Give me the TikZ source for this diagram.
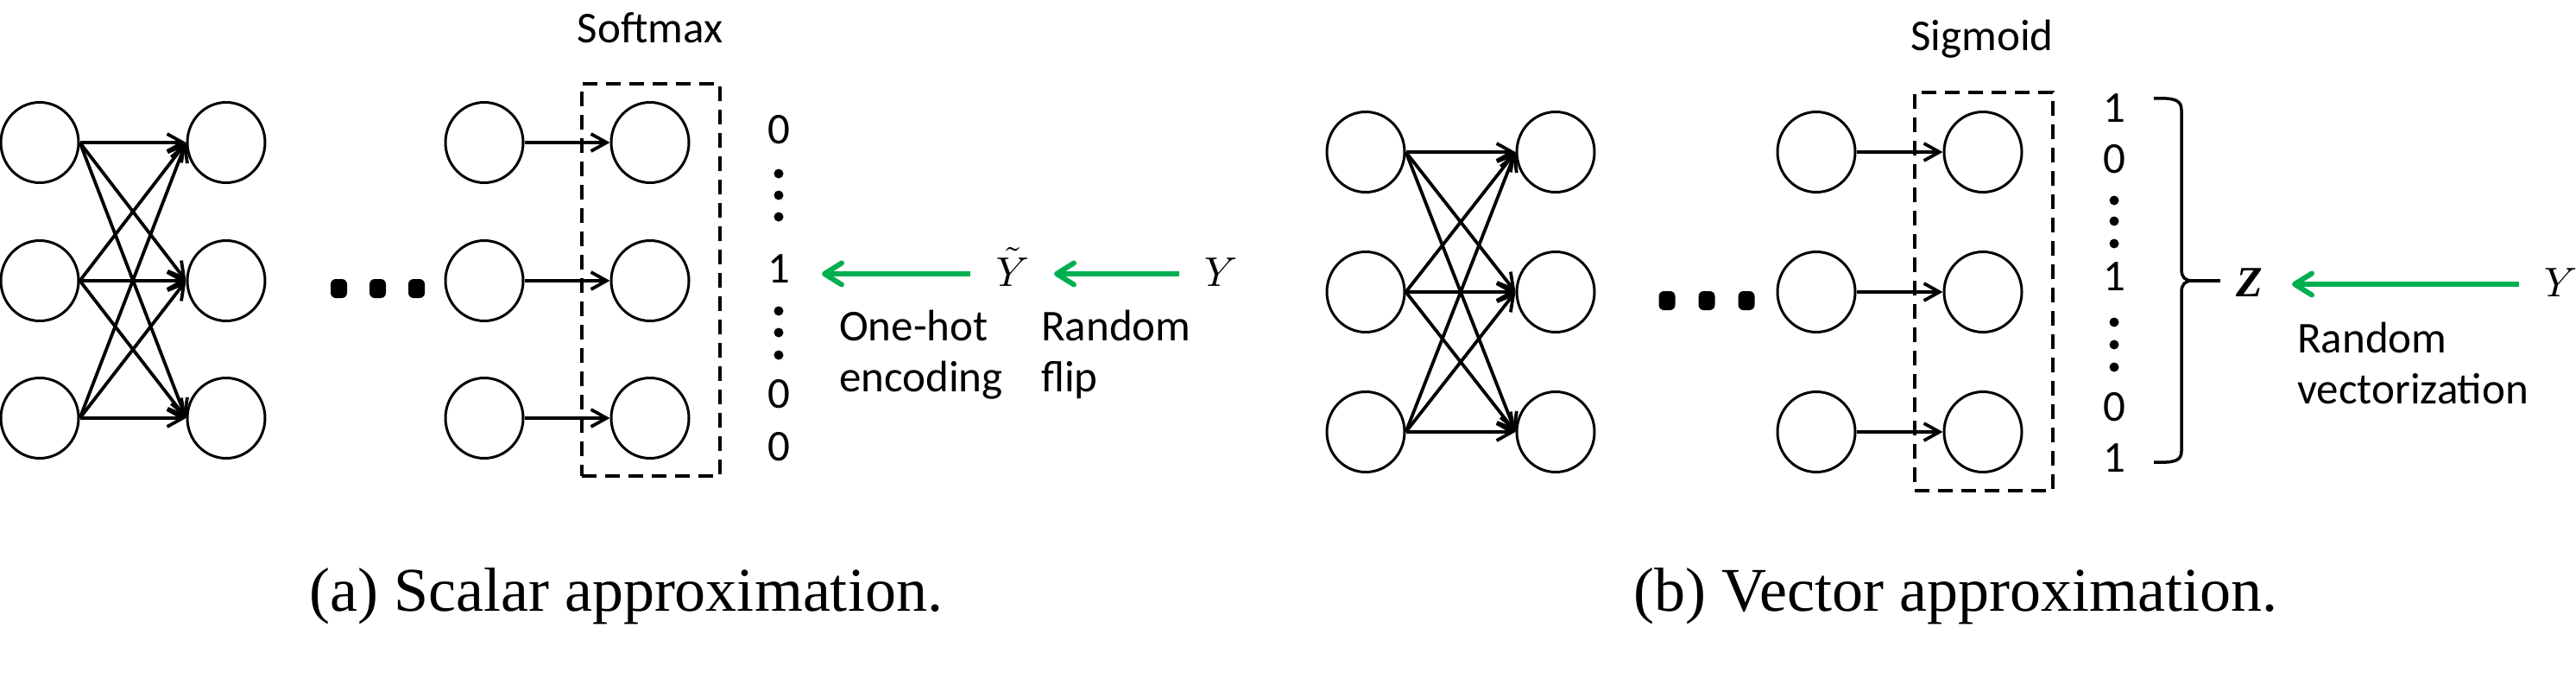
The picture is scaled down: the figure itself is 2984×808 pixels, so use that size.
\documentclass[tikz,border=0pt]{standalone}
\usepackage{amsmath}
\usepackage{graphicx}
\usepackage{fontspec}
\newfontfamily\lblfont{Carlito}
\newfontfamily\capfont{Liberation Serif}
\usetikzlibrary{arrows.meta,shapes.geometric}
\definecolor{arrowgreen}{RGB}{0,176,80}
\newcommand{\bigmath}[1]{\scalebox{4.8}{$#1$}}
\begin{document}
\begin{tikzpicture}[x=1pt,y=-1pt,
 neuron/.style={draw, ellipse, line width=3pt, minimum width=90pt, minimum height=93pt, inner sep=0pt},
 conn/.style={line width=3.8pt, -{Straight Barb[length=18pt,width=20pt]}},
 garrow/.style={draw=arrowgreen, line width=6pt, -{Straight Barb[length=20pt,width=25pt,round]}},
 dashbox/.style={draw, dash pattern=on 17pt off 10pt, line width=3.5pt, minimum width=160pt, inner sep=0pt},
 bigdot/.style={fill, rounded corners=6pt, minimum width=19pt, minimum height=22pt, inner sep=0pt},
 smalldot/.style={fill, circle, minimum size=11pt, inner sep=0pt},
 lbl/.style={font=\lblfont\fontsize{51}{60}\selectfont, inner sep=0pt, anchor=base},
 lblw/.style={font=\lblfont\fontsize{51}{60}\selectfont, inner sep=0pt, anchor=base west},
 mth/.style={inner sep=0pt, anchor=base},
 captxt/.style={font=\capfont\fontsize{72}{86}\selectfont, inner sep=0pt, anchor=base west},
 brace/.style={line width=3.5pt}
]
\useasboundingbox (0,0) rectangle (2984,808);

% ---------- (a) ----------
\node[neuron] (a1) at (46,165) {};
\node[neuron] (a2) at (46,325) {};
\node[neuron] (a3) at (46,484) {};
\node[neuron] (b1) at (262,165) {};
\node[neuron] (b2) at (262,325) {};
\node[neuron] (b3) at (262,484) {};
\node[neuron] (c1) at (561,165) {};
\node[neuron] (c2) at (561,325) {};
\node[neuron] (c3) at (561,484) {};
\node[neuron] (d1) at (753,165) {};
\node[neuron] (d2) at (753,325) {};
\node[neuron] (d3) at (753,484) {};
\foreach \i in {1,2,3}{\foreach \j in {1,2,3}{\draw[conn] (a\i.east) -- (b\j.west);}}
\foreach \i in {1,2,3}{\draw[conn] (c\i.east) -- (d\i.west);}
\node[bigdot] (ldot1) at (392.5,334) {};
\node[bigdot] (ldot2) at (437.5,334) {};
\node[bigdot] (ldot3) at (482.5,334) {};
\node[dashbox, minimum height=454pt] (smbox) at (754,324) {};
\node[lbl] (softmax) at (753,50) {Softmax};

\node[lbl] (la1) at (902,166) {0};
\node[smalldot] (lsd1) at (902,201) {};
\node[smalldot] (lsd2) at (902,226) {};
\node[smalldot] (lsd3) at (902,251) {};
\node[lbl] (la2) at (902,327) {1};
\node[smalldot] (lsd4) at (902,360) {};
\node[smalldot] (lsd5) at (902,385) {};
\node[smalldot] (lsd6) at (902,411) {};
\node[lbl] (la3) at (902,472) {0};
\node[lbl] (la4) at (902,533) {0};

\node[mth] (yt) at (1173,331) {\bigmath{\tilde{Y}}};
\node[mth] (ya) at (1414,331) {\bigmath{Y}};
\coordinate (g1s) at (1124,317);
\coordinate (g1e) at (952,317);
\coordinate (g2s) at (1366,317);
\coordinate (g2e) at (1221,317);
\draw[garrow] (g1s) -- (g1e);
\draw[garrow] (g2s) -- (g2e);
\node[lblw] (oh1) at (972,394) {One-hot};
\node[lblw] (oh2) at (972,453) {encoding};
\node[lblw] (rf1) at (1206,394) {Random};
\node[lblw] (rf2) at (1206,453) {flip};

\node[captxt] (capa) at (358,707) {(a) Scalar approximation.};

% ---------- (b) ----------
\node[neuron] (p1) at (1582,176) {};
\node[neuron] (p2) at (1582,338) {};
\node[neuron] (p3) at (1582,500) {};
\node[neuron] (q1) at (1802,176) {};
\node[neuron] (q2) at (1802,338) {};
\node[neuron] (q3) at (1802,500) {};
\node[neuron] (r1) at (2104,176) {};
\node[neuron] (r2) at (2104,338) {};
\node[neuron] (r3) at (2104,500) {};
\node[neuron] (s1) at (2297,176) {};
\node[neuron] (s2) at (2297,338) {};
\node[neuron] (s3) at (2297,500) {};
\foreach \i in {1,2,3}{\foreach \j in {1,2,3}{\draw[conn] (p\i.east) -- (q\j.west);}}
\foreach \i in {1,2,3}{\draw[conn] (r\i.east) -- (s\i.west);}
\node[bigdot] (rdot1) at (1931,348) {};
\node[bigdot] (rdot2) at (1977,348) {};
\node[bigdot] (rdot3) at (2023,348) {};
\node[dashbox, minimum height=461pt] (sgbox) at (2298,337.5) {};
\node[lbl] (sigmoid) at (2296,59) {Sigmoid};

\node[lbl] (rb1) at (2449,141) {1};
\node[lbl] (rb2) at (2449,200) {0};
\node[smalldot] (rsd1) at (2449,232) {};
\node[smalldot] (rsd2) at (2449,256) {};
\node[smalldot] (rsd3) at (2449,282) {};
\node[lbl] (rb3) at (2449,336) {1};
\node[smalldot] (rsd4) at (2449,373) {};
\node[smalldot] (rsd5) at (2449,399) {};
\node[smalldot] (rsd6) at (2449,425) {};
\node[lbl] (rb4) at (2449,487) {0};
\node[lbl] (rb5) at (2449,546) {1};

\draw[brace] (2495,114) .. controls (2520,113) and (2527,116) .. (2527,128)
  -- (2527,312) .. controls (2527,321) and (2531,325) .. (2540,325)
  .. controls (2531,325) and (2527,329) .. (2527,338)
  -- (2527,522) .. controls (2527,533) and (2520,536) .. (2495,535);
\draw[brace] (2536,325) -- (2572,325);

\node[mth, font=\capfont\bfseries\itshape\fontsize{50}{60}\selectfont] (zz) at (2606,343) {Z};
\node[mth] (yb) at (2966,343) {\bigmath{Y}};
\coordinate (g3s) at (2918,329);
\coordinate (g3e) at (2655,329);
\draw[garrow] (g3s) -- (g3e);
\node[lblw] (rv1) at (2661,408) {Random};
\node[lblw] (rv2) at (2661,467) {vectorization};

\node[captxt] (capb) at (1892,707) {(b) Vector approximation.};
\end{tikzpicture}
\end{document}
